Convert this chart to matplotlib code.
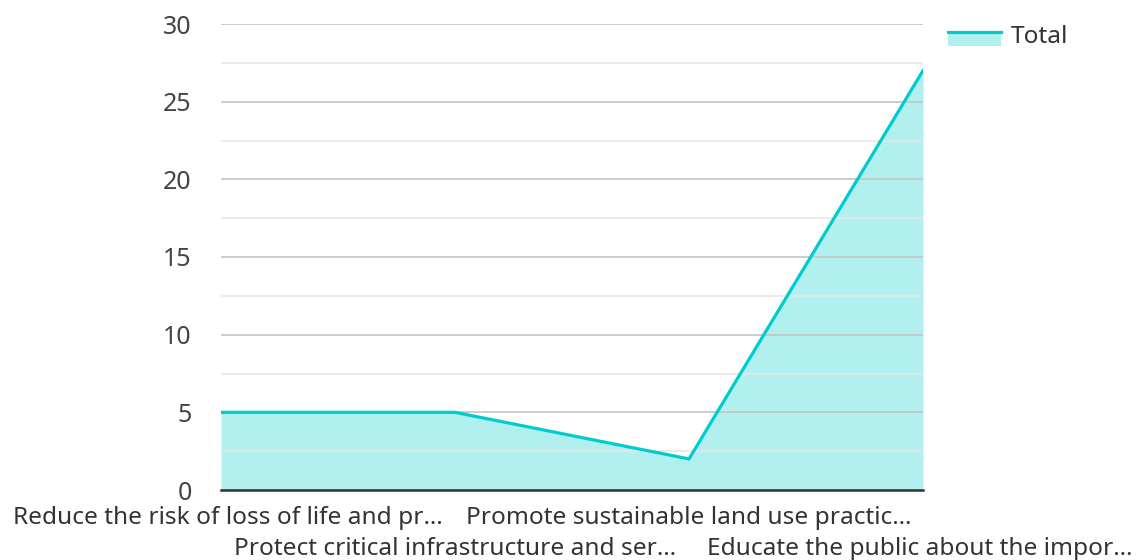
import matplotlib
matplotlib.use("Agg")
import matplotlib.pyplot as plt
import matplotlib.transforms as mtransforms
from matplotlib.patches import Rectangle
from matplotlib.lines import Line2D
from matplotlib.legend_handler import HandlerBase

categories = [
    "Reduce the risk of loss of life and pr\u2026",
    "Protect critical infrastructure and ser\u2026",
    "Promote sustainable land use practic\u2026",
    "Educate the public about the impor\u2026",
]
values = [5, 5, 2, 27]
series_name = "Total"
y_ticks = [0, 5, 10, 15, 20, 25, 30]
y_minor = [2.5, 7.5, 12.5, 17.5, 22.5, 27.5]

LINE = "#00cccc"
FILL = "#b2f0f0"
FS = 17.6

plt.rcParams['font.family'] = ['Noto Sans', 'DejaVu Sans']

fig = plt.figure(figsize=(11.4, 5.6), dpi=100)
ax = fig.add_axes([221/1140, 1-490/560, (923-221)/1140, (490-24)/560])

x = list(range(len(values)))
ax.fill_between(x, values, 0, color=FILL, zorder=1, linewidth=0)
ax.plot(x, values, color=LINE, linewidth=2.3, zorder=4, solid_joinstyle='miter')

ax.set_xlim(0, len(values)-1)
ax.set_ylim(0, 30)
ax.set_yticks(y_ticks)
ax.set_yticks(y_minor, minor=True)
ax.grid(True, which='major', axis='y', color='#c4c4c4', linewidth=1.2, zorder=2)
ax.grid(True, which='minor', axis='y', color='#e6e6e6', linewidth=1.2, zorder=2)
ax.set_axisbelow(False)
for s in ['top', 'right', 'left']:
    ax.spines[s].set_visible(False)
ax.spines['bottom'].set_color('#333333')
ax.spines['bottom'].set_linewidth(1.8)
ax.spines['bottom'].set_zorder(5)
ax.tick_params(axis='y', which='both', length=0, pad=21, labelsize=FS + 0.4, labelcolor='#444444')
ax.tick_params(axis='x', length=0, labelsize=FS, labelcolor='#333333')

ax.set_xticks(x)
ax.set_xticklabels(categories)
for i, tick in enumerate(ax.xaxis.get_major_ticks()):
    tick.set_pad(11.5 if i % 2 == 0 else 34)
offsets = [7, 0, 0, -3]
for t, off in zip(ax.get_xticklabels(), offsets):
    t.set_transform(t.get_transform() + mtransforms.ScaledTranslation(off/100, 0, fig.dpi_scale_trans))


class HandlerAreaLine(HandlerBase):
    def create_artists(self, legend, orig_handle, xdescent, ydescent, width, height, fontsize, trans):
        top = -ydescent + height * 0.62
        rect = Rectangle((-xdescent, top - height * 0.8), width, height * 0.8,
                         facecolor=FILL, edgecolor='none', transform=trans)
        line = Line2D([-xdescent, -xdescent + width], [top, top], color=LINE,
                      linewidth=2.3, transform=trans)
        return [rect, line]


handle = Rectangle((0, 0), 1, 1)
leg = fig.legend([handle], [series_name], handler_map={Rectangle: HandlerAreaLine()},
                 loc='upper left', bbox_to_anchor=(948/1140, 1-25/560), frameon=False,
                 fontsize=FS, handlelength=2.15, handletextpad=0.4, borderaxespad=0,
                 borderpad=0)
for t in leg.get_texts():
    t.set_color('#333333')

fig.savefig("out.png", dpi=100)
